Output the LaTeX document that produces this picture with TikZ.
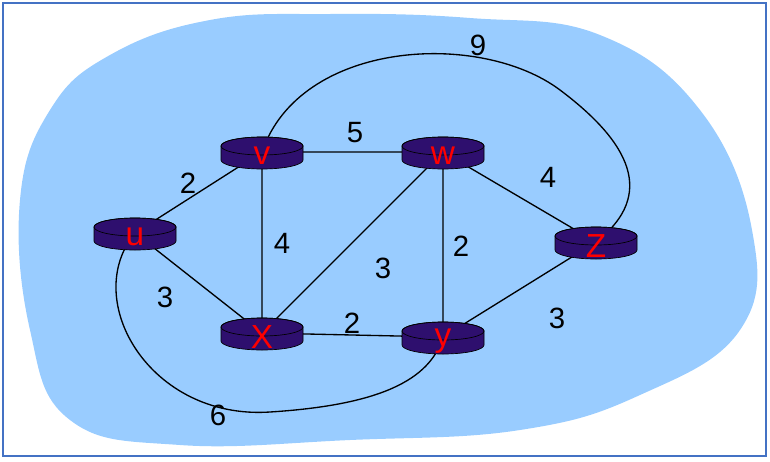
\documentclass[tikz,border=0pt]{standalone}
\usepackage{fontspec}
\setmainfont{Liberation Sans}
\begin{document}
\begin{tikzpicture}[x=0.75pt,y=-0.75pt,
  edge/.style={draw=black,line width=1pt},
  wlab/.style={font=\fontsize{22}{22}\selectfont,inner sep=0pt},
  rlab/.style={font=\fontsize{25}{25}\selectfont,text=red,inner sep=0pt}]
\definecolor{blob}{HTML}{99CCFF}
\definecolor{rtr}{HTML}{2E0F6E}
\definecolor{frame}{HTML}{4472C4}
\useasboundingbox (0,0) rectangle (770,461);
\draw[frame,line width=1pt] (3,3) rectangle (766,456);
\fill[blob] plot[smooth cycle,tension=0.7] coordinates {
 (110,55) (210,20) (330,14) (470,18) (600,35) (700,110) (752,230)
 (740,330) (640,395) (520,430) (350,440) (180,445) (70,420) (30,330) (20,200) (50,110)};
\coordinate (v) at (262,152);
\coordinate (w) at (443,152);
\coordinate (u) at (135,233);
\coordinate (z) at (596,242);
\coordinate (x) at (262,333);
\coordinate (y) at (443,337);
\draw[edge] (v)--(w) (w)--(z) (u)--(v) (v)--(x) (x)--(w) (w)--(y) (u)--(x) (x)--(y) (y)--(z);
\draw[edge] (v) .. controls (300,40) and (480,30) .. (560,90) .. controls (640,150) and (650,200) .. (z);
\draw[edge] (u) .. controls (80,300) and (150,420) .. (270,412) .. controls (380,405) and (430,380) .. (y);
\node[wlab] (l1) at (355,133) {5};
\node[wlab] (l2) at (548,177) {4};
\node[wlab] (l3) at (188,183) {2};
\node[wlab] (l4) at (282,243) {4};
\node[wlab] (l5) at (383,268) {3};
\node[wlab] (l6) at (461,246) {2};
\node[wlab] (l7) at (165,297) {3};
\node[wlab] (l8) at (352,323) {2};
\node[wlab] (l9) at (557,318) {3};
\node[wlab] (l10) at (478,45) {9};
\node[wlab] (l11) at (218,415) {6};
\foreach \n/\t in {v/v,w/w,u/u,z/Z,x/X,y/y}{
  \path (\n) ++(-41,-6) coordinate (a) ++(82,0) coordinate (b);
  \fill[rtr,draw=black,line width=0.5pt] (a) -- ++(0,14) arc[start angle=180,end angle=0,x radius=41,y radius=9] -- (b) arc[start angle=0,end angle=-180,x radius=41,y radius=9];
  \draw[black,line width=0.5pt] (\n) ++(0,-6) ellipse[x radius=41,y radius=9];
  \node[rlab] (\n lab) at ([yshift=-3]\n) {\t};
}
\end{tikzpicture}
\end{document}
